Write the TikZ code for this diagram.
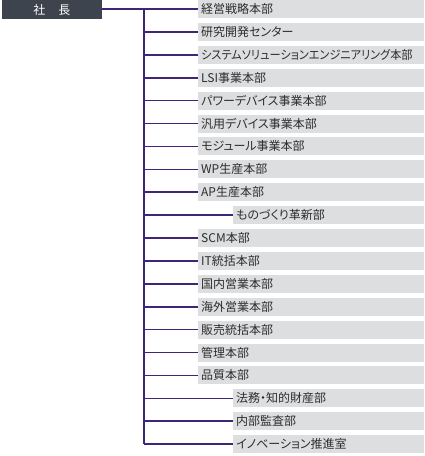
\documentclass[tikz,border=0pt]{standalone}
\usepackage{fontspec}
\usepackage{graphicx}
\newfontfamily\jp[RawFeature=+palt]{Noto Sans CJK JP}
\definecolor{linkpurple}{RGB}{64,36,122}
\definecolor{presgray}{RGB}{62,68,78}
\definecolor{boxgray}{RGB}{221,222,224}
\definecolor{textgray}{RGB}{45,45,45}
\begin{document}
\begin{tikzpicture}[
    x=1pt, y=1pt,
    font=\jp\fontsize{12}{14}\selectfont,
    pres/.style={fill=presgray, text=white, minimum width=100pt, minimum height=19pt, inner sep=0pt},
    dept/.style={anchor=west, fill=boxgray, text=textgray, minimum height=18pt, inner xsep=3pt, inner ysep=0pt, text width=220pt},
    subdept/.style={dept, text width=185pt},
    link/.style={draw=linkpurple, line width=1.6pt}
]
\useasboundingbox (0,0) rectangle (424,-456);

\node[pres] (P) at (52,-9.5) {社\hspace{13pt}長};

\node[dept] (D1) at (198,-9) {経営戦略本部};
\node[dept] (D2) at (198,-31.9) {研究開発センター};
\node[dept] (D3) at (198,-54.8) {\scalebox{0.93}[1]{システムソリューションエンジニアリング本部}};
\node[dept] (D4) at (198,-77.7) {LSI事業本部};
\node[dept] (D5) at (198,-100.6) {パワーデバイス事業本部};
\node[dept] (D6) at (198,-123.5) {汎用デバイス事業本部};
\node[dept] (D7) at (198,-146.4) {モジュール事業本部};
\node[dept] (D8) at (198,-169.3) {WP生産本部};
\node[dept] (D9) at (198,-192.2) {AP生産本部};
\node[subdept] (D10) at (233,-215.1) {ものづくり革新部};
\node[dept] (D11) at (198,-238) {SCM本部};
\node[dept] (D12) at (198,-260.9) {IT統括本部};
\node[dept] (D13) at (198,-283.8) {国内営業本部};
\node[dept] (D14) at (198,-306.7) {海外営業本部};
\node[dept] (D15) at (198,-329.6) {販売統括本部};
\node[dept] (D16) at (198,-352.5) {管理本部};
\node[dept] (D17) at (198,-375.4) {品質本部};
\node[subdept] (D18) at (233,-398.3) {法務・知的財産部};
\node[subdept] (D19) at (233,-421.2) {内部監査部};
\node[subdept] (D20) at (233,-444.1) {イノベーション推進室};

\coordinate (T) at (144,-9);

% president to first department, then the trunk
\draw[link] (P.east |- D1.west) -- (D1.west);
\draw[link] (T) -- (T |- D20.west);

\foreach \d in {D2,D3,D4,D5,D6,D7,D8,D9,D10,D11,D12,D13,D14,D15,D16,D17,D18,D19,D20}
    \draw[link] (T |- \d.west) -- (\d.west);

\end{tikzpicture}
\end{document}
